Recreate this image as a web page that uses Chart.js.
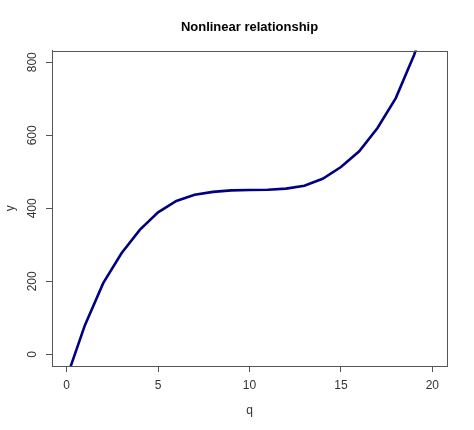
<!DOCTYPE html>
<html>
<head>
<meta charset="utf-8">
<script src="https://cdn.jsdelivr.net/npm/chart.js@4/dist/chart.umd.min.js"></script>
<style>
  html, body { margin: 0; padding: 0; background: #fff; }
  #wrap { width: 474px; height: 430px; }
</style>
</head>
<body>
<div id="wrap"><canvas id="grafico" width="474" height="430"></canvas></div>
<script>
// values
const qValues = [0, 1, 2, 3, 4, 5, 6, 7, 8, 9, 10, 11, 12, 13, 14, 15, 16, 17, 18, 19, 20];
const yValues = [-65, 80, 195, 277, 341, 389, 420, 437, 445, 449, 450, 451, 454, 462, 481, 513, 556, 620, 702, 820, 965];
const xTicks = [0, 5, 10, 15, 20];
const yTicks = [0, 200, 400, 600, 800];

const puntos = qValues.map((q, i) => ({ x: q, y: yValues[i] }));

const ejeColor = '#555555';
const textoColor = '#333333';
const fuente = '"Liberation Sans", Arial, sans-serif';

// R style: box round the plot, y tick labels turned 90 degrees
const cajaR = {
    id: 'cajaR',
    afterDraw(chart) {
        const ctx = chart.ctx;
        const area = chart.chartArea;
        ctx.save();
        ctx.strokeStyle = ejeColor;
        ctx.lineWidth = 1;
        ctx.strokeRect(Math.round(area.left) + 0.5, Math.round(area.top) + 0.5,
            Math.round(area.right - area.left), Math.round(area.bottom - area.top));

        const y = chart.scales.y;
        ctx.fillStyle = textoColor;
        ctx.font = '12px ' + fuente;
        ctx.textAlign = 'center';
        ctx.textBaseline = 'middle';
        y.ticks.forEach(t => {
            const py = y.getPixelForValue(t.value);
            ctx.save();
            ctx.translate(33, py);
            ctx.rotate(-Math.PI / 2);
            ctx.fillText(String(t.value), 0, 0);
            ctx.restore();
        });
        ctx.restore();
    }
};

new Chart(document.getElementById('grafico'), {
    type: 'scatter',
    data: {
        datasets: [{
            label: 'y',
            data: puntos,
            showLine: true,
            borderColor: '#000080',
            borderWidth: 2.6,
            pointRadius: 0,
            tension: 0,
            clip: 0
        }]
    },
    options: {
        responsive: false,
        animation: false,
        layout: { padding: { left: 0, right: 27, top: 0, bottom: 0 } },
        plugins: {
            legend: { display: false },
            tooltip: { enabled: false },
            title: {
                display: true,
                fullSize: false,
                text: 'Nonlinear relationship',
                color: '#000',
                font: { family: fuente, size: 13, weight: 'bold' },
                padding: { top: 20, bottom: 15 }
            }
        },
        scales: {
            x: {
                type: 'linear',
                min: -0.8,
                max: 20.8,
                afterBuildTicks: s => { s.ticks = xTicks.map(v => ({ value: v })); },
                afterFit: s => { s.height = 64; },
                grid: { drawOnChartArea: false, drawTicks: true, tickLength: 6, tickColor: ejeColor },
                border: { display: true, color: ejeColor },
                ticks: {
                    color: textoColor,
                    font: { family: fuente, size: 12 },
                    padding: 6,
                    maxRotation: 0,
                    callback: v => String(v)
                },
                title: {
                    display: true,
                    text: 'q',
                    color: textoColor,
                    font: { family: fuente, size: 12 },
                    padding: { top: 0, bottom: 12 }
                }
            },
            y: {
                type: 'linear',
                min: -32,
                max: 832,
                afterBuildTicks: s => { s.ticks = yTicks.map(v => ({ value: v })); },
                afterFit: s => { s.width = 52; },
                grid: { drawOnChartArea: false, drawTicks: true, tickLength: 6, tickColor: ejeColor },
                border: { display: true, color: ejeColor },
                ticks: { display: false },
                title: {
                    display: true,
                    text: 'y',
                    color: textoColor,
                    font: { family: fuente, size: 12 },
                    padding: { top: 3, bottom: 0 }
                }
            }
        }
    },
    plugins: [cajaR]
});
</script>
</body>
</html>
